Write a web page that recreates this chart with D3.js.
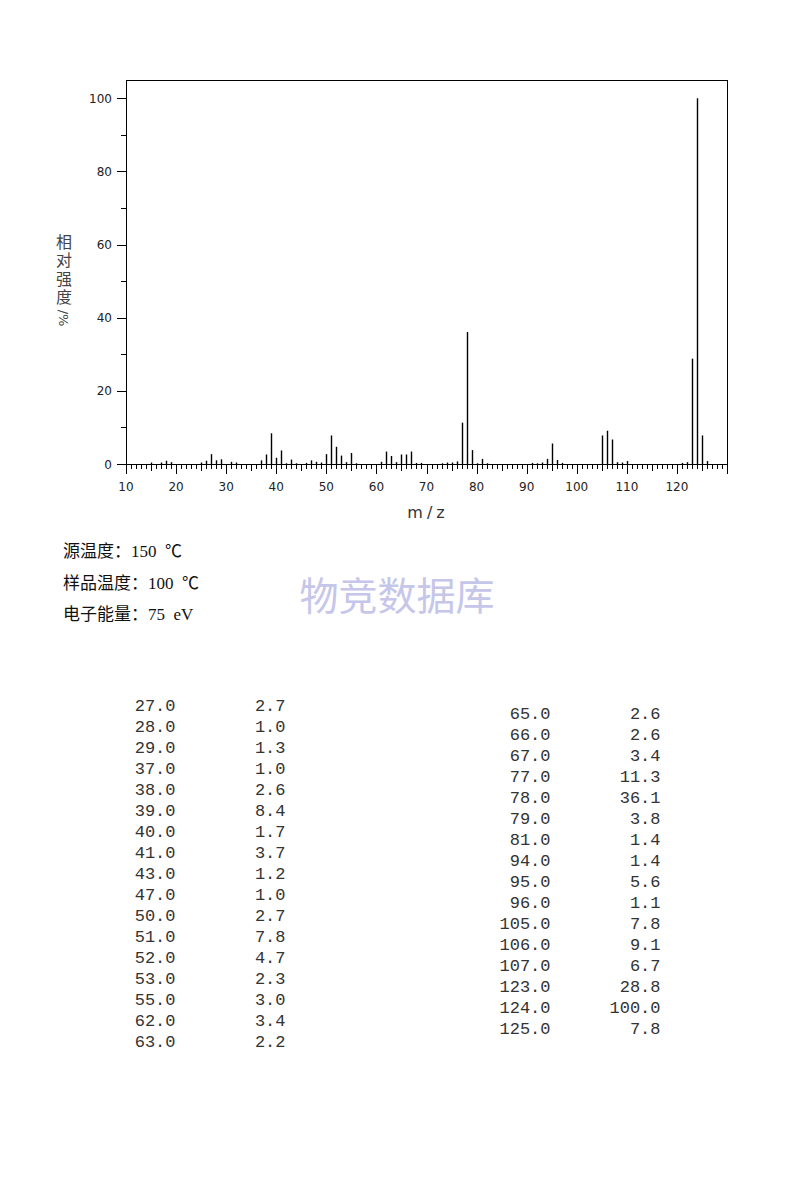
<!DOCTYPE html>
<html><head><meta charset="utf-8">
<script src="https://cdn.jsdelivr.net/npm/d3@7"></script>
<style>
html,body{margin:0;padding:0;background:#fff;}
svg{display:block;}
</style></head>
<body>
<svg id="c" width="794" height="1191"></svg>
<script>
// Spectrum peaks (m/z, relative intensity %)
const peakMz = [15,17,18,19,25,26,27,28,29,31,32,37,38,39,40,41,42,43,44,46,47,48,49,50,51,52,53,54,55,56,61,62,63,64,65,66,67,68,69,73,74,75,76,77,78,79,80,81,82,91,92,93,94,95,96,97,105,106,107,108,109,110,121,122,123,124,125,126];
const peakInt = [0.4,0.4,0.9,0.5,0.4,0.9,2.7,1.0,1.3,0.6,0.4,1.0,2.6,8.4,1.7,3.7,0.2,1.2,0.2,0.3,1.0,0.6,0.4,2.7,7.8,4.7,2.3,0.5,3.0,0.2,0.6,3.4,2.2,0.5,2.6,2.6,3.4,0.3,0.3,0.2,0.4,0.4,0.7,11.3,36.1,3.8,0.2,1.4,0.2,0.3,0.2,0.4,1.4,5.6,1.1,0.3,7.8,9.1,6.7,0.5,0.4,0.8,0.3,0.5,28.8,100.0,7.8,0.8];

// Axis ticks
const xTickLabels = [10,20,30,40,50,60,70,80,90,100,110,120];
const yTickLabels = [0,20,40,60,80,100];
const yTitleText = "相对强度";
const yTitleUnit = "/%";
const xTitle = "m/z";

// Conditions
const infoLines = ["源温度：150 ℃","样品温度：100 ℃","电子能量：75 eV"];
const watermark = "物竞数据库";

// Peak table
const tableLeftMz  = [27,28,29,37,38,39,40,41,43,47,50,51,52,53,55,62,63];
const tableLeftInt = [2.7,1.0,1.3,1.0,2.6,8.4,1.7,3.7,1.2,1.0,2.7,7.8,4.7,2.3,3.0,3.4,2.2];
const tableRightMz  = [65,66,67,77,78,79,81,94,95,96,105,106,107,123,124,125];
const tableRightInt = [2.6,2.6,3.4,11.3,36.1,3.8,1.4,1.4,5.6,1.1,7.8,9.1,6.7,28.8,100.0,7.8];

const svg = d3.select("#c");
const L=126, R=727, T=80, B=464;
const x = d3.scaleLinear().domain([10,130]).range([L,R]);
const y = d3.scaleLinear().domain([0,105]).range([B,T]);

// frame
svg.append("rect").attr("x",L+0.5).attr("y",T+0.5).attr("width",R-L).attr("height",B-T)
  .attr("fill","none").attr("stroke","#000").attr("stroke-width",1);

// x ticks
const xAxis = svg.append("g");
d3.range(10,131).forEach(v=>{
  const len = v%10===0 ? 10 : (v%5===0 ? 7 : 5);
  const px = Math.round(x(v))+0.5;
  xAxis.append("line").attr("x1",px).attr("x2",px).attr("y1",B).attr("y2",B+len)
    .attr("stroke","#000").attr("stroke-width",1);
});
xAxis.selectAll("text.xl").data(xTickLabels).join("text")
  .attr("x",d=>x(d)).attr("y",491).attr("text-anchor","middle")
  .attr("font-family","DejaVu Sans").attr("font-size",12).attr("fill","#222").text(d=>d);

// y ticks
const yAxis = svg.append("g");
d3.range(0,101,10).forEach(v=>{
  const len = v%20===0 ? 9 : 5;
  const py = Math.round(y(v))+0.5;
  yAxis.append("line").attr("x1",L-len).attr("x2",L).attr("y1",py).attr("y2",py)
    .attr("stroke","#000").attr("stroke-width",1);
});
yAxis.selectAll("text.yl").data(yTickLabels).join("text")
  .attr("x",112).attr("y",d=>y(d)+4.5).attr("text-anchor","end")
  .attr("font-family","DejaVu Sans").attr("font-size",12).attr("fill","#222").text(d=>d);

// axis titles
svg.append("text").attr("x",428).attr("y",518).attr("text-anchor","middle")
  .attr("font-family","DejaVu Sans").attr("font-size",16).attr("letter-spacing",4)
  .attr("fill","#333").text(xTitle);
svg.append("text").attr("x",64).attr("y",234)
  .attr("font-family","Noto Sans CJK SC").attr("font-size",16).attr("letter-spacing",2.3)
  .style("writing-mode","vertical-rl").attr("fill","#444").text(yTitleText);
svg.append("text").attr("transform","translate(59,318) rotate(90)").attr("text-anchor","middle")
  .attr("font-family","DejaVu Sans").attr("font-size",13).attr("fill","#444").text(yTitleUnit);

// bars
svg.append("g").selectAll("line").data(peakMz.map((m,i)=>({m,v:peakInt[i]}))).join("line")
  .attr("x1",d=>Math.round(x(d.m))+0.5).attr("x2",d=>Math.round(x(d.m))+0.5)
  .attr("y1",B).attr("y2",d=>y(d.v))
  .attr("stroke","#000").attr("stroke-width",1.4);

// info lines
svg.selectAll("text.info").data(infoLines).join("text")
  .attr("x",63).attr("y",(d,i)=>557+i*31.5)
  .attr("font-family","Liberation Serif, Noto Sans CJK SC").attr("font-size",17)
  .attr("fill","#111").attr("xml:space","preserve").style("white-space","pre").text(d=>d.replace(" ","  "));

// watermark
svg.append("text").attr("x",397).attr("y",610).attr("text-anchor","middle")
  .attr("font-family","Noto Sans CJK SC").attr("font-size",39)
  .attr("fill","#c6c6ea").text(watermark);

// table
function col(mzs, ints, xm, xv, y0){
  const g = svg.append("g").attr("font-family","Liberation Mono").attr("font-size",17).attr("fill","#333");
  g.selectAll("text.m").data(mzs).join("text").attr("x",xm).attr("y",(d,i)=>y0+i*21)
    .attr("text-anchor","end").text(d=>d.toFixed(1));
  g.selectAll("text.v").data(ints).join("text").attr("x",xv).attr("y",(d,i)=>y0+i*21)
    .attr("text-anchor","end").text(d=>d.toFixed(1));
}
col(tableLeftMz, tableLeftInt, 175.5, 285.5, 711);
col(tableRightMz, tableRightInt, 550.5, 660.5, 719);
</script>
</body></html>
